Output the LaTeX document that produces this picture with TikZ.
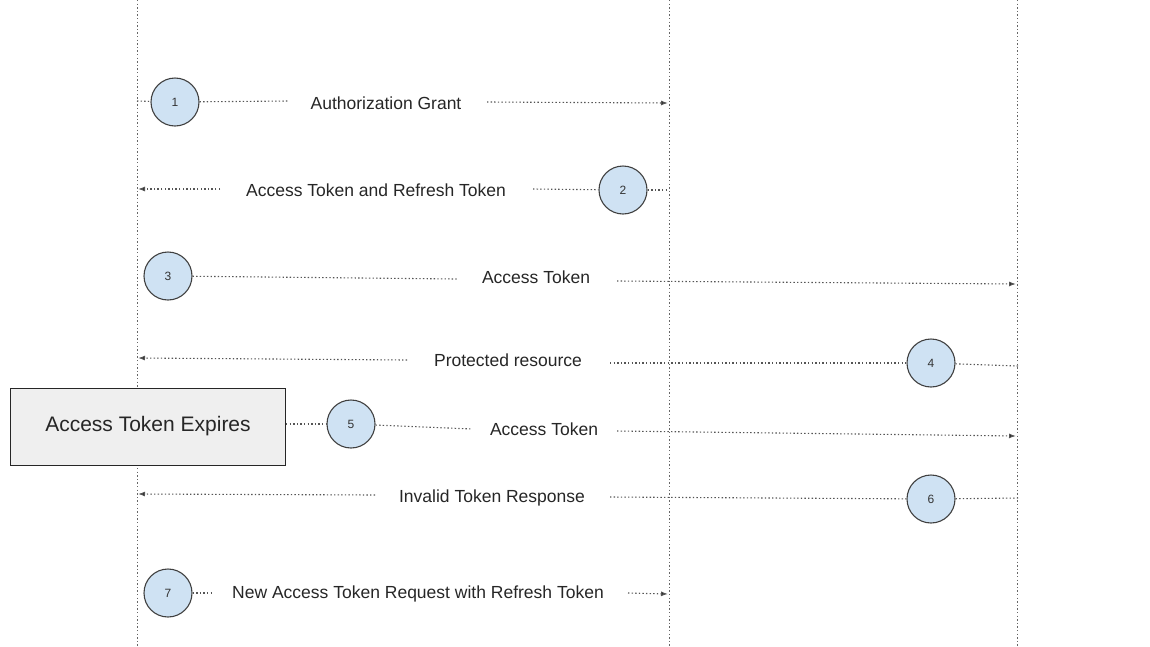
\documentclass[tikz,border=0pt]{standalone}
\usepackage{fontspec}
\setmainfont{Liberation Sans}
\usetikzlibrary{arrows.meta}
\definecolor{circfill}{HTML}{CFE2F3}
\definecolor{boxfill}{HTML}{EFEFEF}
\definecolor{msgline}{HTML}{555555}
\definecolor{lifecol}{HTML}{666666}
\tikzset{
  life/.style={draw=lifecol, line width=0.9pt, dash pattern=on 1.3pt off 2.3pt},
  msg/.style={draw=msgline, line width=1.1pt, dash pattern=on 1.4pt off 2.2pt},
  msgarrow/.style={msg, -{Latex[length=7pt,width=5pt,fill=black]}},
  stepcirc/.style={circle, draw=black!75, line width=1.1pt, fill=circfill, minimum size=48pt, inner sep=0pt, font=\fontsize{12}{13}\selectfont, text=black!80},
  label/.style={inner sep=0pt, font=\fontsize{17.5}{20}\selectfont, text=black!85},
  expbox/.style={draw=black!85, line width=0.9pt, fill=boxfill, minimum width=275pt, minimum height=77pt, font=\fontsize{21}{24}\selectfont, text=black!85}
}
\begin{document}
\begin{tikzpicture}[x=1pt,y=-1pt]
\useasboundingbox (0,0) rectangle (1150,646);
% lifelines
\coordinate (cTop) at (137,0); \coordinate (cBot) at (137,646);
\coordinate (aTop) at (669,0); \coordinate (aBot) at (669,646);
\coordinate (rTop) at (1017,0); \coordinate (rBot) at (1017,646);
\draw[life] (cTop) -- (cBot);
\draw[life] (aTop) -- (aBot);
\draw[life] (rTop) -- (rBot);

% 1
\node[stepcirc] (s1) at (175,102) {1};
\node[label] (t1) at (386,103) {Authorization Grant};
\coordinate (l1) at (137,101);
\coordinate (e1a) at (288,101);
\coordinate (e1b) at (487,102);
\coordinate (a1) at (668,103);
\draw[msg] (l1) -- (s1);
\draw[msg] (s1) -- (e1a);
\draw[msgarrow] (e1b) -- (a1);

% 2
\node[stepcirc] (s2) at (623,190) {2};
\node[label] (t2) at (376,190) {Access Token and Refresh Token};
\coordinate (a2) at (138,189);
\coordinate (e2a) at (220,189);
\coordinate (e2b) at (533,189);
\coordinate (l2) at (669,190);
\draw[msgarrow] (e2a) -- (a2);
\draw[msg] (e2b) -- (s2);
\draw[msg] (s2) -- (l2);

% 3
\node[stepcirc] (s3) at (168,276) {3};
\node[label] (t3) at (536,277) {Access Token};
\coordinate (e3a) at (457,279);
\coordinate (e3b) at (617,281);
\coordinate (a3) at (1016,284);
\draw[msg] (s3) -- (e3a);
\draw[msgarrow] (e3b) -- (a3);

% 4
\node[stepcirc] (s4) at (931,363) {4};
\node[label] (t4) at (508,360) {Protected resource};
\coordinate (a4) at (138,358);
\coordinate (e4a) at (407,360);
\coordinate (e4b) at (610,363);
\coordinate (l4) at (1018,366);
\draw[msgarrow] (e4a) -- (a4);
\draw[msg] (e4b) -- (s4);
\draw[msg] (s4) -- (l4);

% box
\node[expbox] (box) at (148,426.5) {Access Token Expires};

% 5
\node[stepcirc] (s5) at (351,424) {5};
\node[label] (t5) at (544,429) {Access Token};
\coordinate (e5a) at (472,429);
\coordinate (e5b) at (617,431);
\coordinate (a5) at (1016,436);
\draw[msg] (box.east |- s5) -- (s5);
\draw[msg] (s5) -- (e5a);
\draw[msgarrow] (e5b) -- (a5);

% 6
\node[stepcirc] (s6) at (931,499) {6};
\node[label] (t6) at (492,498) {Invalid Token Response};
\coordinate (a6) at (138,494);
\coordinate (e6a) at (375,495);
\coordinate (e6b) at (610,497);
\coordinate (l6) at (1018,498);
\draw[msgarrow] (e6a) -- (a6);
\draw[msg] (e6b) -- (s6);
\draw[msg] (s6) -- (l6);

% 7
\node[stepcirc] (s7) at (168,593) {7};
\node[label] (t7) at (418,594) {New Access Token Request with Refresh Token};
\coordinate (e7a) at (212,593);
\coordinate (e7b) at (628,593);
\coordinate (a7) at (668,594);
\draw[msg] (s7) -- (e7a);
\draw[msgarrow] (e7b) -- (a7);
\end{tikzpicture}
\end{document}
